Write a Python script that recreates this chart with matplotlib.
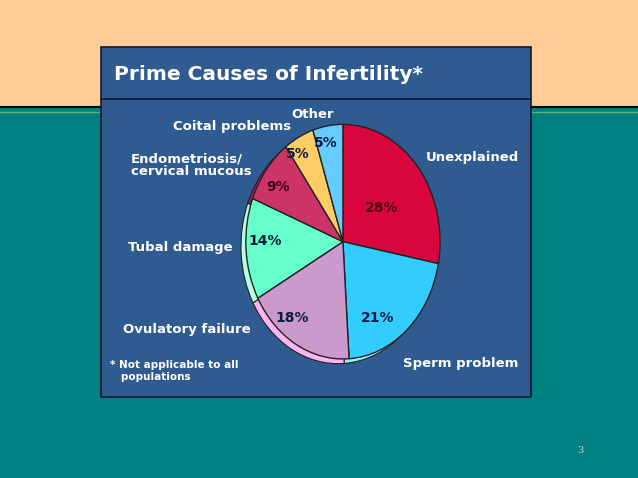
import matplotlib
matplotlib.use('Agg')
import matplotlib.pyplot as plt
from matplotlib.patches import Rectangle

plt.rcParams['font.family'] = ['Liberation Sans Narrow', 'DejaVu Sans']

causes = ['Unexplained', 'Sperm problem', 'Ovulatory failure', 'Tubal damage',
          'Endometriosis/\ncervical mucous', 'Coital problems', 'Other']
shares = [28, 21, 18, 14, 9, 5, 5]
colors = ['#D8063C', '#33CCFF', '#CC99CC', '#66FFCC', '#CC3366', '#FFCC66', '#66CCFF']
shadow = ['#B00030', '#99EEFF', '#FFB3F0', '#B3FFE6', '#A02050', '#FFE0A0', '#A0E0FF']

# pixel positions of the labels on the slide
pct_pos = [(382, 208), (378, 318), (292, 318), (265, 241), (278, 187), (298, 154), (326, 143)]
pct_col = ['#4A0010', '#0A1A40', '#0A1A40', '#0A1A40', '#3A0010', '#0A1A40', '#0A1A40']
name_pos = [(472, 158, 'center'), (461, 363, 'center'), (187, 330, 'center'),
            (180, 247, 'center'), (131, 165, 'left'), (232, 126, 'center'), (313, 114, 'center')]

fig = plt.figure(figsize=(6.38, 4.78), dpi=100)
bg = fig.add_axes([0, 0, 1, 1])
bg.set_xlim(0, 638)
bg.set_ylim(478, 0)
bg.axis('off')
bg.add_patch(Rectangle((0, 0), 638, 107, color='#FFCC99', zorder=0))
bg.add_patch(Rectangle((0, 107), 638, 371, color='#008080', zorder=0))
bg.plot([0, 638], [107, 107], color='black', lw=1.5, zorder=1)
bg.plot([0, 638], [112, 112], color='#66B080', lw=1, zorder=1)
bg.add_patch(Rectangle((101, 47), 430, 350, facecolor='#2F5B90', edgecolor='#101830', lw=1.2, zorder=3))
bg.plot([101, 531], [99, 99], color='#101830', lw=1.2, zorder=4)
bg.text(114, 74, 'Prime Causes of Infertility*', color='white', fontsize=14.5, fontweight='bold',
        va='center', ha='left', zorder=5)
bg.text(580, 453, '3', color='#C8D8D8', fontsize=7, family='DejaVu Serif', ha='center')

for (x, y, ha), name in zip(name_pos, causes):
    bg.text(x, y, name, color='white', fontsize=9.5, fontweight='bold', ha=ha, va='center',
            linespacing=1.0, zorder=5)
bg.text(110, 371, '* Not applicable to all\n   populations', color='white', fontsize=7.5,
        fontweight='bold', ha='left', va='center', linespacing=1.2, zorder=5)

ax = fig.add_axes([240 / 638, (478 - 366) / 478, 202 / 638, 244 / 478])
ax.pie(shares, colors=shadow, startangle=90, counterclock=False, center=(-0.05, -0.04),
       wedgeprops=dict(linewidth=0.8, edgecolor='#222222'))
ax.pie(shares, colors=colors, startangle=90, counterclock=False,
       wedgeprops=dict(linewidth=1.0, edgecolor='#222222'))
ax.set_aspect('auto')
ax.set_xlim(-1.06, 1.02)
ax.set_ylim(-1.06, 1.02)
ax.axis('off')

top = fig.add_axes([0, 0, 1, 1])
top.set_xlim(0, 638)
top.set_ylim(478, 0)
top.axis('off')
for (x, y), p, c in zip(pct_pos, shares, pct_col):
    top.text(x, y, f'{p}%', color=c, fontsize=10, fontweight='bold', ha='center', va='center')

fig.savefig('out.png', dpi=100)
